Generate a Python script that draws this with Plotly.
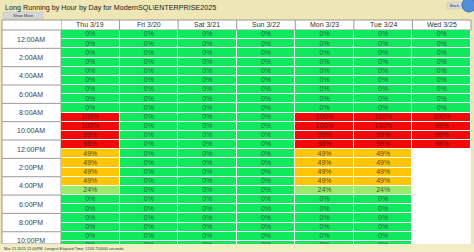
import plotly.graph_objects as go

days = ["Thu 3/19", "Fri 3/20", "Sat 3/21", "Sun 3/22", "Mon 3/23", "Tue 3/24", "Wed 3/25"]
hour_labels = ["12:00AM", "2:00AM", "4:00AM", "6:00AM", "8:00AM", "10:00AM",
               "12:00PM", "2:00PM", "4:00PM", "6:00PM", "8:00PM", "10:00PM"]

thu = [0, 0, 0, 0, 0, 0, 0, 0, 0, 100, 100, 99, 98, 49, 49, 49, 49, 24, 0, 0, 0, 0, 0, 0]
fri = [0, 0, 0, 0, 0, 0, 0, 0, 0, 0, 0, 0, 0, 0, 0, 0, 0, 0, 0, 0, 0, 0, 0, 0]
sat = [0, 0, 0, 0, 0, 0, 0, 0, 0, 0, 0, 0, 0, 0, 0, 0, 0, 0, 0, 0, 0, 0, 0, 0]
sun = [0, 0, 0, 0, 0, 0, 0, 0, 0, 0, 0, 0, 0, 0, 0, 0, 0, 0, 0, 0, 0, 0, 0, 0]
mon = [0, 0, 0, 0, 0, 0, 0, 0, 0, 100, 100, 99, 98, 49, 49, 49, 49, 24, 0, 0, 0, 0, 0, 0]
tue = [0, 0, 0, 0, 0, 0, 0, 0, 0, 100, 100, 99, 98, 49, 49, 49, 49, 24, 0, 0, 0, 0, 0, 0]
wed = [0, 0, 0, 0, 0, 0, 0, 0, 0, 100, 99, 99, 98, None, None, None, None, None, None, None, None, None, None, None]

series = [thu, fri, sat, sun, mon, tue, wed]
n_rows = 24

title_text = "Long Running by Hour by Day for ModernSQL\\ENTERPRISE2025"
status_text = "Mar 25 2025 12:00PM  Longest Elapsed Time: 1203.750000 seconds"

W, H = 474, 252
FONT = "Liberation Sans, Arial, sans-serif"

z = [[series[c][r] for c in range(len(days))] for r in range(n_rows)]

def txt_color(v):
    if v >= 90:
        return "#7a0a0a"
    if v >= 40:
        return "#5a4a05"
    if v >= 10:
        return "#3d5a22"
    return "#1f6a3a"

row_px = 9.17
visible = (244 - 30) / row_px

tx, ty, tt, tc = [], [], [], []
for c, s in enumerate(series):
    for r, v in enumerate(s):
        if v is None:
            continue
        tx.append(c)
        ty.append(r)
        tt.append(f"{v}%")
        tc.append(txt_color(v))

green = "#10E85E"
lgreen = "#9BEA6E"
orange = "#FFC608"
red = "#F20A0A"
cscale = [[0.0, green], [0.15, green], [0.15, lgreen], [0.35, lgreen],
          [0.35, orange], [0.8, orange], [0.8, red], [1.0, red]]

fig = go.Figure()
fig.add_trace(go.Heatmap(
    z=z, x=list(range(len(days))), y=list(range(n_rows)),
    colorscale=cscale, zmin=0, zmax=100, showscale=False,
    xgap=1, ygap=1, hoverinfo="skip",
))
fig.add_trace(go.Scatter(
    x=tx, y=ty, mode="text", text=tt, cliponaxis=True,
    textfont=dict(family=FONT, size=7, color=tc),
    hoverinfo="skip", showlegend=False,
))

x_left = 61 / W
x_right = 471 / W
y_top = 1 - 30 / H
y_bot = 1 - 244 / H

fig.update_layout(
    width=W, height=H,
    margin=dict(l=0, r=0, t=0, b=0),
    paper_bgcolor="#EEE6B4",
    plot_bgcolor="#FFFFFF",
    showlegend=False,
    xaxis=dict(domain=[x_left, x_right], range=[-0.5, len(days) - 0.5],
               showticklabels=False, showgrid=False, zeroline=False, ticks=""),
    yaxis=dict(domain=[y_bot, y_top], range=[visible - 0.5, -0.5],
               showticklabels=False, showgrid=False, zeroline=False, ticks=""),
)

shapes = []
annotations = []

shapes.append(dict(type="rect", xref="paper", yref="paper",
                   x0=2 / W, x1=x_right, y0=y_top, y1=1 - 20 / H,
                   fillcolor="#FFFFFF", line=dict(color="#9a9a9a", width=1), layer="below"))
shapes.append(dict(type="rect", xref="paper", yref="y",
                   x0=2 / W, x1=x_left, y0=-0.5, y1=visible - 0.5,
                   fillcolor="#FFFFFF", line=dict(color="#9a9a9a", width=1), layer="below"))
for c in range(len(days)):
    shapes.append(dict(type="line", xref="x", yref="paper",
                       x0=c - 0.5, x1=c - 0.5, y0=y_top, y1=1 - 20 / H,
                       line=dict(color="#9a9a9a", width=1)))
    annotations.append(dict(x=c, y=1 - 25 / H, xref="x", yref="paper", text=days[c],
                            showarrow=False, font=dict(family=FONT, size=7, color="#333333"),
                            xanchor="center", yanchor="middle"))
for k, lab in enumerate(hour_labels):
    if k > 0:
        shapes.append(dict(type="line", xref="paper", yref="y",
                           x0=2 / W, x1=x_left, y0=2 * k - 0.5, y1=2 * k - 0.5,
                           line=dict(color="#9a9a9a", width=1)))
    annotations.append(dict(x=31 / W, y=2 * k + 0.5, xref="paper", yref="y", text=lab,
                            showarrow=False, font=dict(family=FONT, size=7, color="#444444"),
                            xanchor="center", yanchor="middle"))

shapes.append(dict(type="rect", xref="paper", yref="paper",
                   x0=0, x1=1, y0=0, y1=8 / H,
                   fillcolor="#F3EDC6", line=dict(width=0), layer="above"))
annotations.append(dict(x=2 / W, y=4 / H, xref="paper", yref="paper", text=status_text,
                        showarrow=False, font=dict(family=FONT, size=3.9, color="#333333"),
                        xanchor="left", yanchor="middle"))

annotations.append(dict(x=3 / W, y=1 - 7.5 / H, xref="paper", yref="paper", text=title_text,
                        showarrow=False, font=dict(family=FONT, size=7.2, color="#222222"),
                        xanchor="left", yanchor="middle"))
shapes.append(dict(type="rect", xref="paper", yref="paper",
                   x0=3 / W, x1=43 / W, y0=1 - 18.5 / H, y1=1 - 12 / H,
                   fillcolor="#D6D6D6", line=dict(color="#c0c0c0", width=0.5)))
annotations.append(dict(x=23 / W, y=1 - 15.3 / H, xref="paper", yref="paper", text="Show More",
                        showarrow=False, font=dict(family=FONT, size=4, color="#333333"),
                        xanchor="center", yanchor="middle"))
shapes.append(dict(type="rect", xref="paper", yref="paper",
                   x0=447 / W, x1=461 / W, y0=1 - 9 / H, y1=1 - 2 / H,
                   fillcolor="#DADADA", line=dict(color="#c0c0c0", width=0.5)))
annotations.append(dict(x=454 / W, y=1 - 5.5 / H, xref="paper", yref="paper", text="Back",
                        showarrow=False, font=dict(family=FONT, size=4, color="#333333"),
                        xanchor="center", yanchor="middle"))
shapes.append(dict(type="circle", xref="paper", yref="paper",
                   x0=462 / W, x1=476 / W, y0=1 - 12 / H, y1=1 + 2 / H,
                   fillcolor="#4F8FD8", line=dict(color="#2f6fb8", width=1)))

fig.update_layout(shapes=shapes, annotations=annotations)
fig.write_html("out.html")
